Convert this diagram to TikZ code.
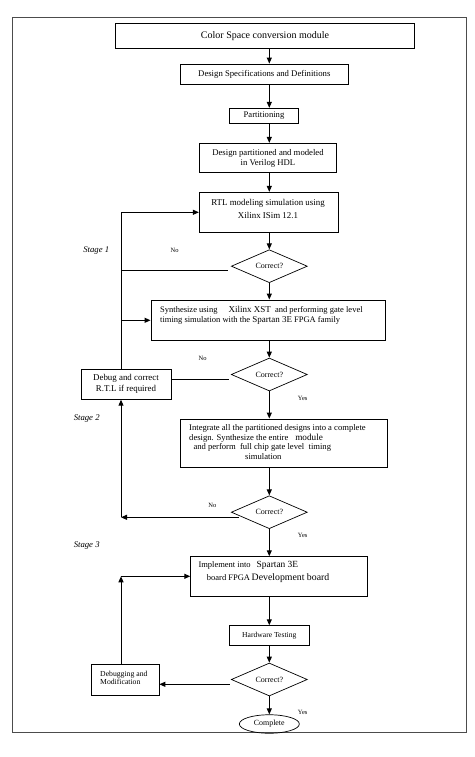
\documentclass[tikz,border=0pt]{standalone}
\usepackage{fontspec}
\setmainfont{Liberation Serif}
\usetikzlibrary{shapes.geometric,arrows.meta,calc}
\newcommand{\fs}[2]{\fontsize{#1}{#2}\selectfont}
\begin{document}
\begin{tikzpicture}[x=1pt,y=-1pt,
  frame/.style={draw=black!70,line width=0.9pt},
  box/.style={draw,line width=0.8pt,inner sep=0pt,align=center},
  dia/.style={draw,line width=0.7pt,diamond,inner sep=0pt,minimum width=76pt,minimum height=29pt,font=\fs{8}{9}},
  conn/.style={line width=1pt},
  arr/.style={line width=1pt,-{Triangle[length=6pt,width=5pt]}},
  lab/.style={inner sep=0pt,font=\fs{6.5}{7}},
  stage/.style={inner sep=0pt,font=\fs{8.7}{9}\itshape},
  txt/.style={inner sep=0pt,align=left,anchor=north west}]
\useasboundingbox (0,0) rectangle (474,757);
\draw[frame] (12.7,17.3) rectangle (466.7,732.7);
\coordinate (spine) at (269.3,0);
\coordinate (loopx) at (121,0);

\node[box,minimum width=298.6pt,minimum height=24.6pt,font=\fs{10}{12}] (b1) at (265,36) {Color Space conversion module};
\node[box,minimum width=168pt,minimum height=20pt,font=\fs{8.7}{10}] (b2) at (264.3,74) {Design Specifications and Definitions};
\node[box,minimum width=69.4pt,minimum height=15pt,font=\fs{8.6}{10}] (b3) at (264,115.8) {Partitioning};
\node[box,minimum width=136.7pt,minimum height=29.4pt] (b4) at (267.7,158) {};
\node[inner sep=0pt,align=center,font=\fs{8.7}{10}] (t4) at (268,158.3) {Design partitioned and modeled\\ in Verilog HDL};
\node[box,minimum width=139pt,minimum height=40pt] (b5) at (268.8,212.3) {};
\node[inner sep=0pt,align=center,font=\fs{8.9}{13.4}] (t5) at (268,209) {RTL modeling simulation using\\ Xilinx ISim 12.1};
\node[dia] (d1) at (269.3,266.2) {Correct?};
\node[box,minimum width=234.7pt,minimum height=40.7pt] (b6) at (268.3,320.3) {};
\node[txt,font=\fs{8.5}{10}] (t6) at (160,306.2) {Synthesize using\hspace{11pt}{\fs{9}{10}Xilinx XST}\ \ and performing gate level\\
timing simulation with the {\fs{9}{10}Spartan 3E} FPGA family};
\node[dia] (d2) at (269.3,374.5) {Correct?};
\node[box,minimum width=89.3pt,minimum height=30pt] (dbg) at (126.3,384.3) {};
\node[inner sep=0pt,align=center,font=\fs{8.9}{10.7}] (tdbg) at (126,383.7) {Debug and correct\\ R.T.L if required};
\node[box,minimum width=207pt,minimum height=48.7pt] (b7) at (284.2,443.3) {};
\node[txt,font=\fs{8.6}{9.7}] (t7) at (189,424.2) {Integrate all the partitioned designs into a complete\\
design. Synthesize the entire\hspace{7pt}{\fs{9.2}{9.7}module}\\
\hspace{4.3pt}and perform\ \ full chip gate level\ \ timing\\
\hspace{56pt}simulation};
\node[dia] (d3) at (269.3,512.2) {Correct?};
\node[box,minimum width=176.6pt,minimum height=39.3pt] (b8) at (279,576.3) {};
\node[txt,font=\fs{8.5}{13.3}] (t8) at (198.3,561) {Implement into\hspace{6pt}{\fs{9.4}{13.3}Spartan 3E}\\
\hspace{8.4pt}board FPGA{\fs{9.8}{13.3}\,Development board}};
\node[box,minimum width=79.4pt,minimum height=19.3pt,font=\fs{7.6}{9}] (hw) at (269.3,635.3) {Hardware Testing};
\node[dia] (d4) at (269.3,679.5) {Correct?};
\node[box,minimum width=67.3pt,minimum height=31.4pt] (dm) at (125.3,680) {};
\node[txt,font=\fs{7.7}{8.5}] (tdm) at (100,670.6) {Debugging and\\ Modification};
\node[draw,ellipse,line width=0.7pt,inner sep=0pt,minimum width=60pt,minimum height=18.5pt,font=\fs{7.9}{9}] (cpl) at (269.3,724) {Complete};

% main spine
\draw[arr] (b1.south -| spine) -- (b2.north -| spine);
\draw[arr] (b2.south -| spine) -- (b3.north -| spine);
\draw[arr] (b3.south -| spine) -- (b4.north -| spine);
\draw[arr] (b4.south -| spine) -- (b5.north -| spine);
\draw[arr] (b5.south -| spine) -- (d1.north);
\draw[arr] (d1.south) -- (b6.north -| spine);
\draw[arr] (b6.south -| spine) -- (d2.north);
\draw[arr] (d2.south) -- (b7.north -| spine);
\draw[arr] (b7.south -| spine) -- (d3.north);
\draw[arr] (d3.south) -- (b8.north -| spine);
\draw[arr] (b8.south -| spine) -- (hw.north);
\draw[arr] (hw.south) -- (d4.north);
\draw[arr] (d4.south) -- (cpl.north);

% stage 1 / 2 loops
\coordinate (n1) at ([xshift=-3pt,yshift=-4pt]d1.west);
\draw[conn] (n1) -- (n1 -| loopx);
\draw[conn] (dbg.north -| loopx) -- (b5.west -| loopx);
\draw[arr] (b5.west -| loopx) -- (b5.west);
\draw[arr] (b6.west -| loopx) -- (b6.west);
\coordinate (n2) at ([xshift=-2pt,yshift=-5pt]d2.west);
\draw[conn] (n2) -- (n2 -| dbg.east);
\coordinate (n3) at ([xshift=8pt,yshift=-5.1pt]d3.west);
\coordinate (c3) at (n3 -| loopx);
\draw[arr] (n3) -- (c3);
\draw[arr] (c3) -- (dbg.south -| loopx);
% stage 3 loop
\coordinate (c8) at (b8.west -| loopx);
\draw[arr] (dm.north -| loopx) -- (c8);
\draw[arr] (c8) -- (b8.west);
\coordinate (n4) at ([xshift=-1pt,yshift=-4.8pt]d4.west);
\draw[arr] (n4) -- (n4 -| dm.east);

% labels
\node[lab] (no1) at (174.6,250) {No};
\node[lab] (no2) at (202.7,358.3) {No};
\node[lab] (no3) at (212.3,505) {No};
\node[lab] (y2) at (302.7,398.3) {Yes};
\node[lab] (y3) at (302.7,535.5) {Yes};
\node[lab] (y4) at (302.7,712.7) {Yes};
\node[stage] (s1) at (96.3,251) {Stage 1};
\node[stage] (s2) at (86.7,418.3) {Stage 2};
\node[stage] (s3) at (86.7,545.7) {Stage 3};
\end{tikzpicture}
\end{document}
